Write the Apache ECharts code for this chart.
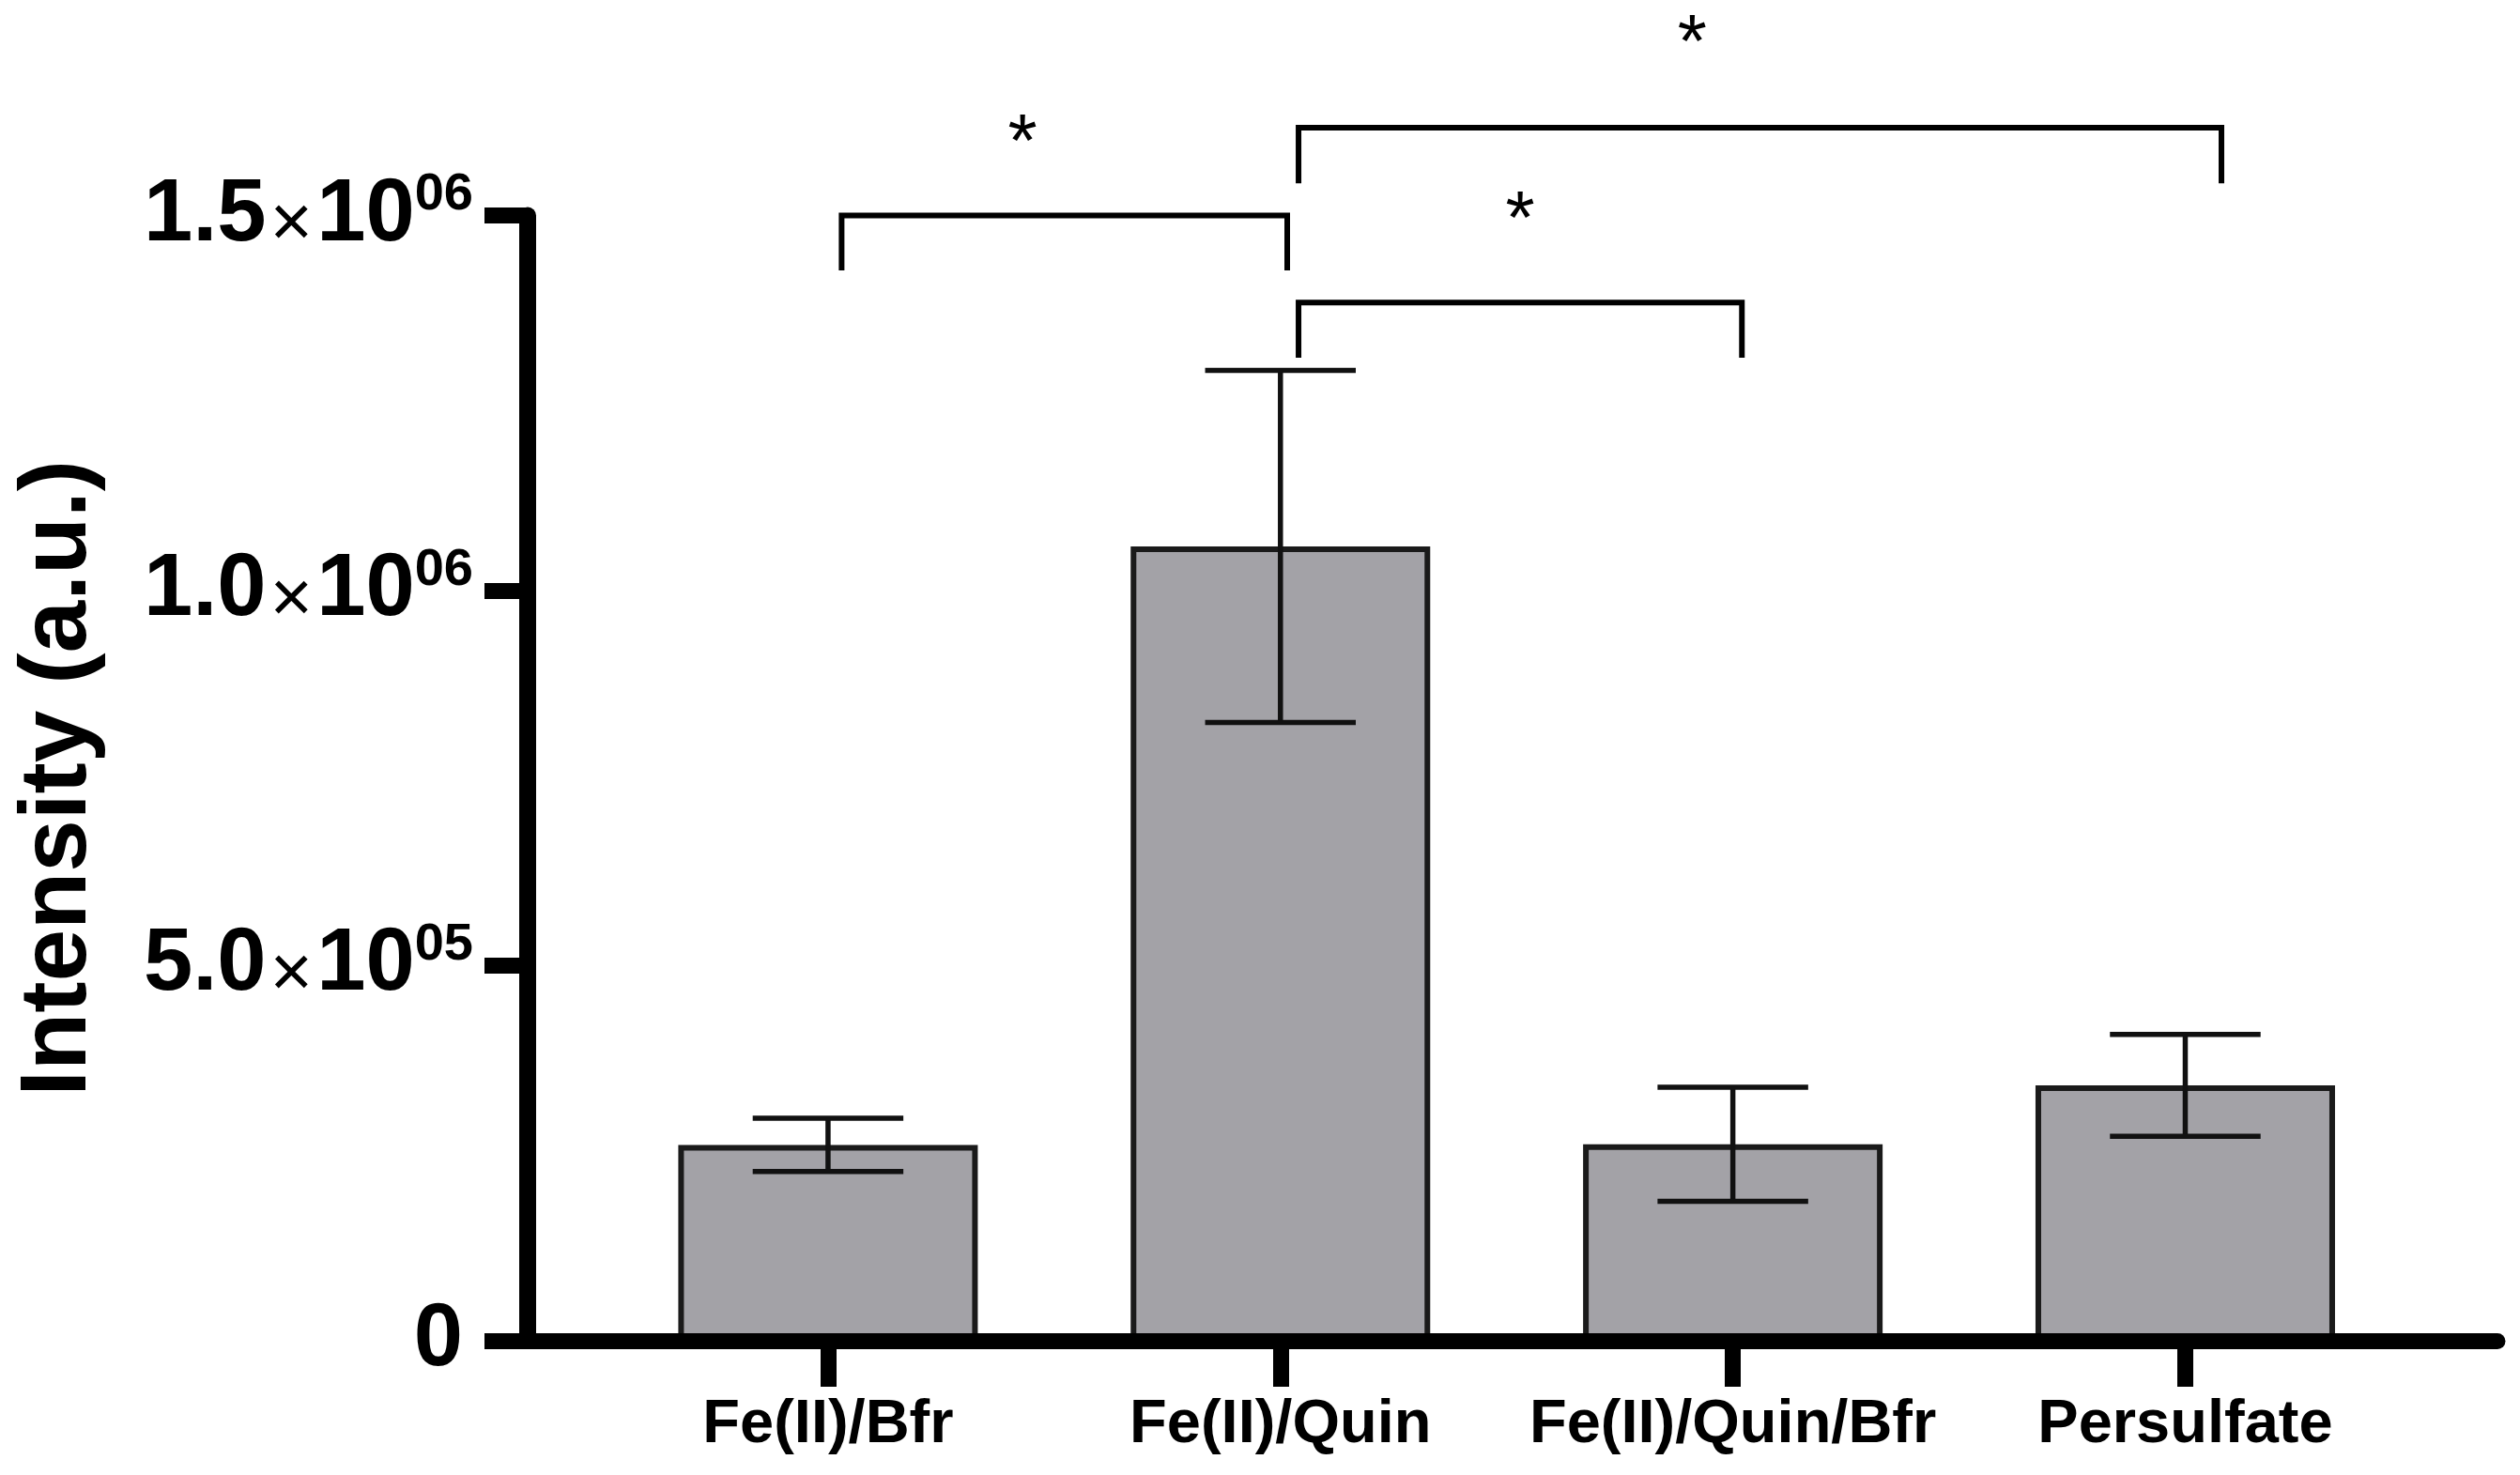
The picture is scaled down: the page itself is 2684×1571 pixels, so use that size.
<!DOCTYPE html>
<html><head><meta charset="utf-8">
<script src="https://cdn.jsdelivr.net/npm/echarts@6/dist/echarts.min.js"></script>
<style>html,body{margin:0;padding:0;background:#fff}#c{width:2684px;height:1571px}</style>
</head><body><div id="c"></div>
<script>
// ---- data ----
const categories = ['Fe(II)/Bfr', 'Fe(II)/Quin', 'Fe(II)/Quin/Bfr', 'Persulfate'];
const means  = [261000, 1059000, 262000, 340500];
const errors = [35500, 234700, 76000, 68000];
const yTicks = [0, 500000, 1000000, 1500000];
const yTickLabels = ['0', '5.0×10^05', '1.0×10^06', '1.5×10^06'];
// significance brackets: ends in category units, heights in data units
const bracketFrom = [0.03, 1.04, 1.04];
const bracketTo   = [1.015, 3.08, 2.02];
const bracketTop  = [1500000, 1617000, 1384000];
const bracketLeg  = [1427000, 1543000, 1310500];
const starX    = [0.43, 1.91, 1.53];
const starY    = [1617000, 1748600, 1513300];
const starText = ['*', '*', '*'];

const FONT = '"Liberation Sans", Arial, sans-serif';
const chart = echarts.init(document.getElementById('c'), null, {renderer: 'canvas'});

function yLabel(v) {
  const s = yTickLabels[yTicks.indexOf(v)];
  if (s === undefined) return '';
  if (s.indexOf('^') < 0) return '{z|' + s + '}';
  const parts = s.split('^');
  const mt = parts[0].split('×');
  return '{m|' + mt[0] + '}{x|×}{m|' + mt[1] + '}{s|' + parts[1] + '}';
}

const option = {
  backgroundColor: '#ffffff',
  animation: false,
  grid: [
    {left: 562, right: 24, top: 229.6, bottom: 143, outerBoundsMode: 'none', containLabel: false},
    {left: 641, right: 115.6, top: 229.6, bottom: 143, outerBoundsMode: 'none', containLabel: false}
  ],
  xAxis: [
    {gridIndex: 0, type: 'value', min: 0, max: 1, z: 10,
     axisLine: {show: true, lineStyle: {color: '#000', width: 17}},
     axisTick: {show: false}, axisLabel: {show: false}, splitLine: {show: false}},
    {gridIndex: 1, type: 'category', data: categories, z: 10,
     axisLine: {show: false},
     axisTick: {show: true, interval: 0, alignWithLabel: true, length: 49, lineStyle: {color: '#000', width: 17}},
     axisLabel: {show: true, interval: 0, hideOverlap: false, margin: 58, color: '#000', fontFamily: FONT, fontWeight: 'bold', fontSize: 65, lineHeight: 65},
     splitLine: {show: false}}
  ],
  yAxis: [
    {gridIndex: 0, type: 'value', min: 0, max: 1500000, interval: 500000, z: 10,
     name: 'Intensity (a.u.)', nameLocation: 'middle', nameGap: 449,
     nameTextStyle: {color: '#000', fontFamily: FONT, fontWeight: 'bold', fontSize: 100, lineHeight: 100},
     axisLine: {show: true, lineStyle: {color: '#000', width: 18}},
     axisTick: {show: true, length: 46, lineStyle: {color: '#000', width: 17}},
     splitLine: {show: false},
     axisLabel: {show: true, margin: 58, formatter: yLabel, color: '#000',
       rich: {
         m: {fontFamily: FONT, fontWeight: 'bold', fontSize: 94, lineHeight: 100, color: '#000'},
         z: {fontFamily: FONT, fontWeight: 'bold', fontSize: 94, lineHeight: 100, color: '#000', padding: [0, 11, 0, 0]},
         x: {fontFamily: FONT, fontWeight: 'normal', fontSize: 78, lineHeight: 84, color: '#000', verticalAlign: 'bottom', padding: [0, 4, 0, 4]},
         s: {fontFamily: FONT, fontWeight: 'bold', fontSize: 56, lineHeight: 56, color: '#000', verticalAlign: 'top'}
       }}},
    {gridIndex: 1, type: 'value', min: 0, max: 1500000, interval: 500000, show: false,
     axisLine: {show: false}, axisTick: {show: false}, axisLabel: {show: false}, splitLine: {show: false}}
  ],
  series: [
    {type: 'bar', xAxisIndex: 1, yAxisIndex: 1, data: means, barWidth: 319, z: 2,
     itemStyle: {color: '#a3a2a7', borderColor: '#1a1a1a', borderWidth: 6}},
    {type: 'custom', xAxisIndex: 1, yAxisIndex: 1, z: 5, clip: false,
     data: means.map((m, i) => [i, m, errors[i]]),
     renderItem: function (params, api) {
       const i = api.value(0), m = api.value(1), e = api.value(2);
       const top = api.coord([i, m + e]);
       const bot = api.coord([i, m - e]);
       const bw = api.size([1, 0], [i, m])[0];
       const hw = bw * 0.333 / 2;
       const st = {stroke: '#111', lineWidth: 5.5, lineCap: 'butt'};
       return {type: 'group', children: [
         {type: 'line', shape: {x1: top[0], y1: top[1], x2: bot[0], y2: bot[1]}, style: st},
         {type: 'line', shape: {x1: top[0] - hw, y1: top[1], x2: top[0] + hw, y2: top[1]}, style: st},
         {type: 'line', shape: {x1: bot[0] - hw, y1: bot[1], x2: bot[0] + hw, y2: bot[1]}, style: st}
       ]};
     }},
    {type: 'custom', xAxisIndex: 1, yAxisIndex: 1, z: 5, clip: false,
     data: bracketTop.map((t) => [0, t]),
     renderItem: function (params, api) {
       const k = params.dataIndex;
       const base = api.coord([0, 0]);
       const bw = api.size([1, 0], [0, 0])[0];
       const x1 = base[0] + bracketFrom[k] * bw;
       const x2 = base[0] + bracketTo[k] * bw;
       const yt = api.coord([0, bracketTop[k]])[1];
       const yl = api.coord([0, bracketLeg[k]])[1];
       return {type: 'polyline', shape: {points: [[x1, yl], [x1, yt], [x2, yt], [x2, yl]]},
               style: {stroke: '#000', lineWidth: 6, fill: null, lineJoin: 'miter', lineCap: 'butt'}};
     }},
    {type: 'custom', xAxisIndex: 1, yAxisIndex: 1, z: 5, clip: false,
     data: starY.map((t) => [0, t]),
     renderItem: function (params, api) {
       const k = params.dataIndex;
       const base = api.coord([0, 0]);
       const bw = api.size([1, 0], [0, 0])[0];
       const x = base[0] + starX[k] * bw;
       const y = api.coord([0, starY[k]])[1];
       const fs = 80;
       return {type: 'text', x: x, y: y + fs * 0.23,
               style: {text: starText[k], fontFamily: FONT, fontSize: fs, fontWeight: 'normal',
                       fill: '#000', align: 'center', verticalAlign: 'middle'}};
     }}
  ]
};
chart.setOption(option);
</script>
</body></html>
